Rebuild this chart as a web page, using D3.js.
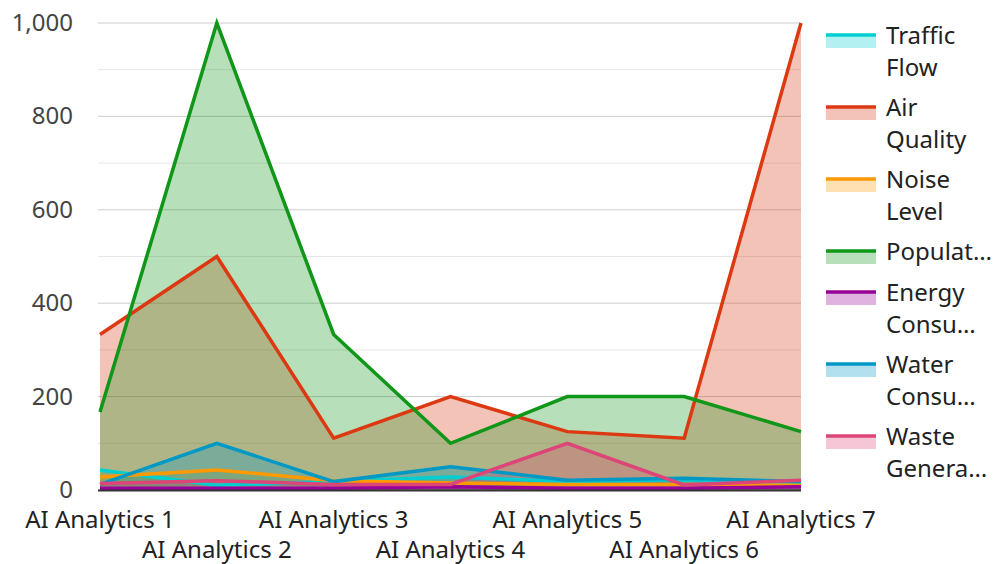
<!DOCTYPE html>
<html>
<head>
<meta charset="utf-8">
<script src="https://cdn.jsdelivr.net/npm/d3@7/dist/d3.min.js"></script>
<style>
  html, body { margin: 0; padding: 0; background: #fff; }
  svg { display: block; font-family: "Noto Sans", "Open Sans", sans-serif; }
</style>
</head>
<body>
<svg id="chart" width="996" height="564"></svg>
<script>
const categories = ["AI Analytics 1", "AI Analytics 2", "AI Analytics 3", "AI Analytics 4", "AI Analytics 5", "AI Analytics 6", "AI Analytics 7"];
const seriesNames = ["Traffic Flow", "Air Quality", "Noise Level", "Population", "Energy Consumption", "Water Consumption", "Waste Generation"];
const seriesColors = ["#00CED1", "#DC3912", "#FF9900", "#109618", "#990099", "#0099C6", "#DD4477"];
const trafficFlow = [43, 10, 18, 28, 18, 22, 15];
const airQuality = [333, 500, 111, 200, 125, 111, 1000];
const noiseLevel = [28, 43, 20, 15, 12, 12, 10];
const population = [167, 1000, 333, 100, 200, 200, 125];
const energyConsumption = [4, 4, 4, 7, 4, 4, 7];
const waterConsumption = [12, 100, 18, 50, 21, 25, 18];
const wasteGeneration = [14, 20, 12, 12, 100, 11, 21];
const yTicks = [0, 200, 400, 600, 800, 1000];
const yGrid = [0, 100, 200, 300, 400, 500, 600, 700, 800, 900, 1000];

const seriesValues = [trafficFlow, airQuality, noiseLevel, population, energyConsumption, waterConsumption, wasteGeneration];

const svg = d3.select("#chart");
const pLeft = 100, pRight = 801, pTop = 23, pBottom = 490;

const x = d3.scalePoint().domain(categories).range([pLeft, pRight]);
const y = d3.scaleLinear().domain([0, 1000]).range([pBottom, pTop]);

// gridlines
svg.append("g").selectAll("line").data(yGrid).join("line")
  .attr("x1", pLeft - 2).attr("x2", pRight)
  .attr("y1", d => y(d)).attr("y2", d => y(d))
  .attr("stroke", d => d % 200 === 0 ? "#cccccc" : "#e6e6e6")
  .attr("stroke-width", 1);

// y labels
svg.append("g").selectAll("text").data(yTicks).join("text")
  .attr("x", 73).attr("y", d => y(d))
  .attr("dy", "0.33em")
  .attr("text-anchor", "end")
  .attr("fill", "#444")
  .attr("font-size", 24)
  .text(d => d3.format(",")(d));

const area = d3.area().x((d, i) => x(categories[i])).y0(y(0)).y1(d => y(d));
const line = d3.line().x((d, i) => x(categories[i])).y(d => y(d));

const gS = svg.append("g");
seriesValues.forEach((vals, k) => {
  gS.append("path").datum(vals).attr("d", area)
    .attr("fill", seriesColors[k]).attr("fill-opacity", 0.3);
});
seriesValues.forEach((vals, k) => {
  gS.append("path").datum(vals).attr("d", line)
    .attr("fill", "none").attr("stroke", seriesColors[k])
    .attr("stroke-width", 3.5).attr("stroke-linejoin", "miter");
});

// bottom axis line
svg.append("line").attr("x1", pLeft - 2).attr("x2", pRight)
  .attr("y1", y(0) + 0.5).attr("y2", y(0) + 0.5)
  .attr("stroke", "#333").attr("stroke-width", 2);

// x labels
svg.append("g").selectAll("text").data(categories).join("text")
  .attr("x", d => x(d))
  .attr("y", (d, i) => i % 2 === 0 ? 527.5 : 557.5)
  .attr("text-anchor", "middle")
  .attr("fill", "#222")
  .attr("font-size", 24)
  .text(d => d);

// legend
const legX = 826, textX = 886, maxW = 108;
const lg = svg.append("g");
let ly = 35;
seriesNames.forEach((name, k) => {
  const g = lg.append("g");
  g.append("rect").attr("x", legX).attr("y", ly).attr("width", 50).attr("height", 13)
    .attr("fill", seriesColors[k]).attr("fill-opacity", 0.3);
  g.append("line").attr("x1", legX).attr("x2", legX + 50).attr("y1", ly).attr("y2", ly)
    .attr("stroke", seriesColors[k]).attr("stroke-width", 3.5);
  const words = name.split(" ");
  const lines = [];
  const probe = g.append("text").attr("font-size", 24);
  const fits = s => { probe.text(s); return probe.node().getComputedTextLength() <= maxW; };
  const trunc = s => { let t = s; while (t.length > 1 && !fits(t + "…")) t = t.slice(0, -1); return t + "…"; };
  let cur = "";
  for (const w of words) {
    const cand = cur ? cur + " " + w : w;
    if (fits(cand)) { cur = cand; }
    else {
      if (cur) { lines.push(cur); cur = ""; }
      if (fits(w)) cur = w; else { lines.push(trunc(w)); }
    }
  }
  if (cur) lines.push(cur);
  probe.remove();
  const shown = lines.slice(0, 2);
  if (lines.length > 2) shown[1] = trunc(shown[1]);
  const t = g.append("text").attr("x", textX).attr("y", ly + 9)
    .attr("font-size", 24).attr("fill", "#222");
  shown.forEach((s, i) => {
    t.append("tspan").attr("x", textX).attr("y", ly + 9 + i * 32).text(s);
  });
  ly += shown.length === 2 ? 72 : 41;
});
</script>
</body>
</html>
